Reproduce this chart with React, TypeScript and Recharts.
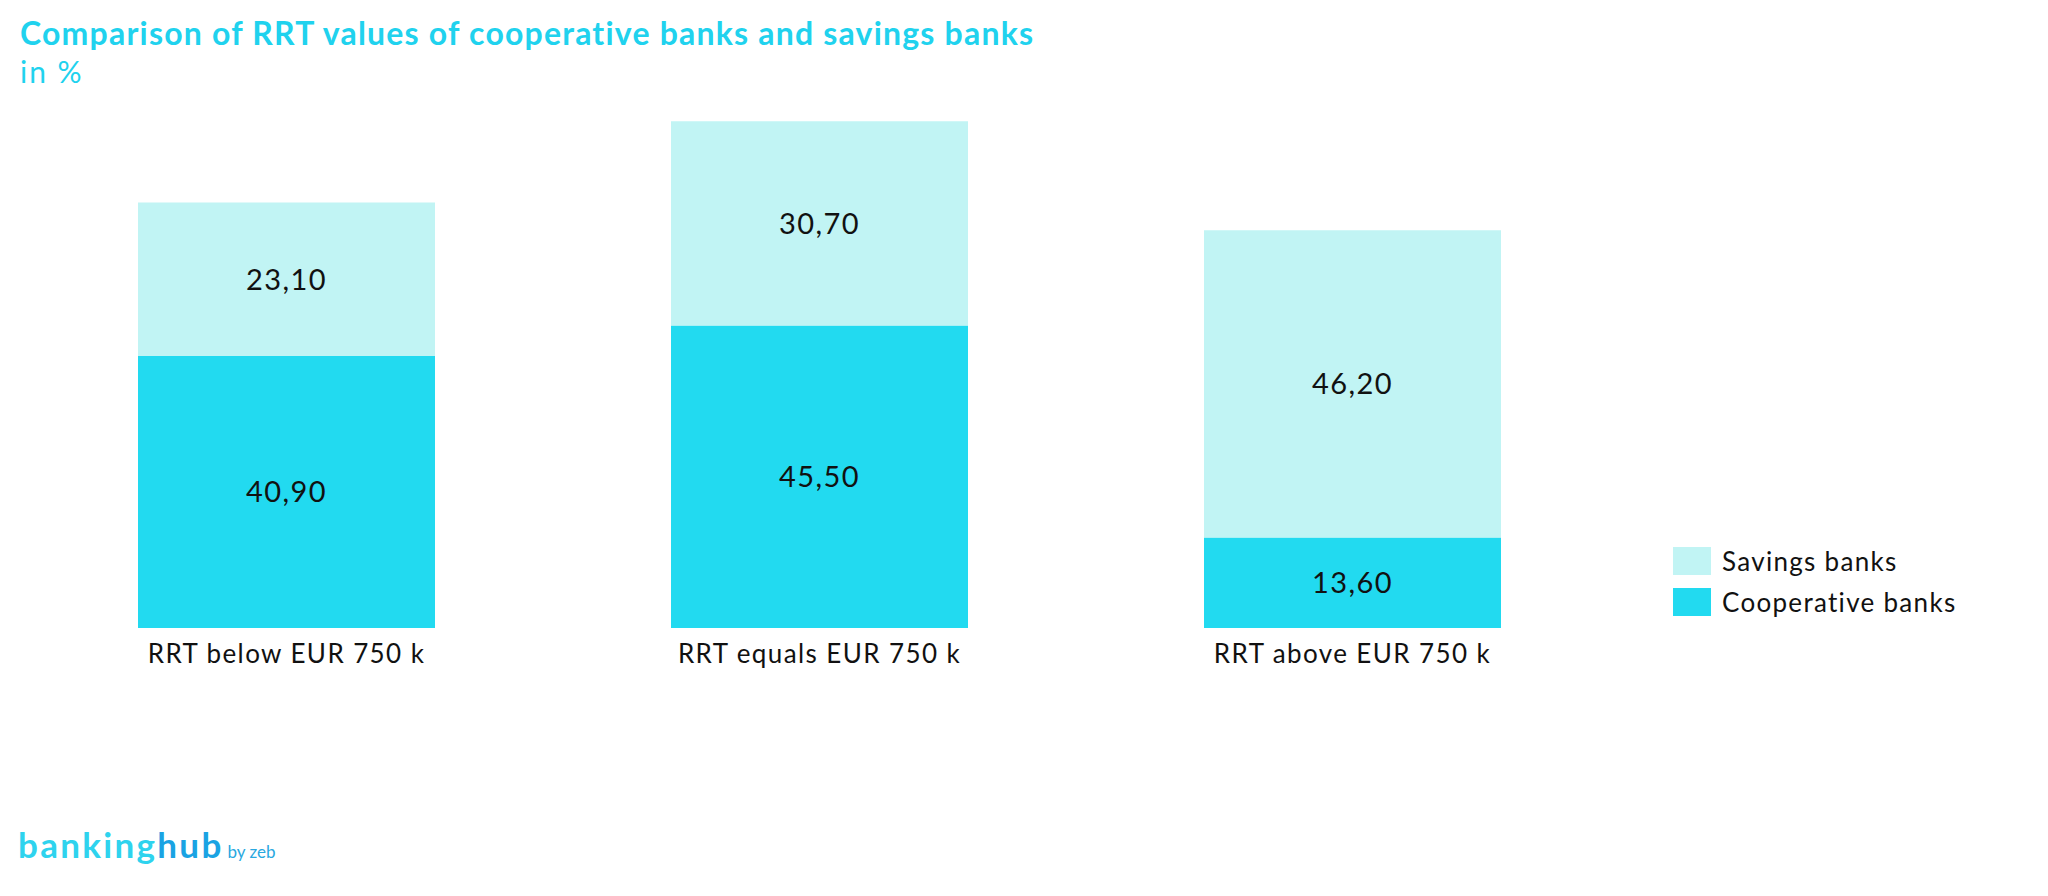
import React from "react";
import { Bar, BarChart, LabelList, Legend, XAxis, YAxis } from "recharts";

const COOP = "#22daf0";
const SAVINGS = "#c1f4f4";
const TITLE = "#20d2ee";
const FONT = "Lato, 'Noto Sans', sans-serif";

const categories = ["RRT below EUR 750 k", "RRT equals EUR 750 k", "RRT above EUR 750 k"];
const cooperativeBanks = [40.9, 45.5, 13.6];
const savingsBanks = [23.1, 30.7, 46.2];

const data = categories.map((name, i) => ({
  name,
  coop: cooperativeBanks[i],
  savings: savingsBanks[i],
}));

const fmt = (v: any) => Number(v).toFixed(2).replace(".", ",");

const labelStyle = { fontSize: 29, fill: "#111", fontFamily: FONT, letterSpacing: 1.4 };

function LegendBox(props: any) {
  const items = (props.payload || []).slice().reverse();
  return (
    <div style={{ fontFamily: FONT }}>
      {items.map((it: any) => (
        <div
          key={it.value}
          style={{ display: "flex", alignItems: "center", height: 41 }}
        >
          <div style={{ width: 38, height: 28, background: it.color, marginRight: 11 }} />
          <span style={{ fontSize: 26, color: "#111", letterSpacing: 1.3 }}>{it.value}</span>
        </div>
      ))}
    </div>
  );
}

export default function App() {
  return (
    <div style={{ position: "absolute", left: 0, top: 0, width: 2048, height: 896, background: "#fff" }}>
      <div
        style={{
          position: "absolute",
          left: 20,
          top: 14,
          fontFamily: FONT,
          color: TITLE,
          lineHeight: "38px",
          whiteSpace: "nowrap",
        }}
      >
        <div style={{ fontSize: 32, fontWeight: 700, letterSpacing: 1.2 }}>
          Comparison of RRT values of cooperative banks and savings banks
        </div>
        <div style={{ fontSize: 30, letterSpacing: 2 }}>in %</div>
      </div>

      <BarChart
        width={2048}
        height={896}
        data={data}
        margin={{ top: 96, right: 429, bottom: 208, left: 20 }}
        barSize={297}
      >
        <XAxis
          dataKey="name"
          axisLine={false}
          tickLine={false}
          tickSize={0}
          tickMargin={17}
          height={60}
          interval={0}
          tick={{ fontSize: 26, fill: "#111", fontFamily: FONT, letterSpacing: 1.4 }}
        />
        <YAxis hide domain={[0, 80]} />
        <Legend
          layout="vertical"
          align="center"
          verticalAlign="middle"
          wrapperStyle={{ left: 1673, top: 540, width: "auto" }}
          content={<LegendBox />}
        />
        <Bar dataKey="coop" name="Cooperative banks" stackId="a" fill={COOP} isAnimationActive={false}>
          <LabelList dataKey="coop" position="center" formatter={fmt} style={labelStyle} />
        </Bar>
        <Bar dataKey="savings" name="Savings banks" stackId="a" fill={SAVINGS} isAnimationActive={false}>
          <LabelList dataKey="savings" position="center" formatter={fmt} style={labelStyle} />
        </Bar>
      </BarChart>

      <div
        style={{
          position: "absolute",
          left: 18,
          top: 822,
          fontFamily: FONT,
          whiteSpace: "nowrap",
          lineHeight: "44px",
        }}
      >
        <span style={{ fontSize: 35, fontWeight: 700, color: "#2ed3ee", letterSpacing: 2.3 }}>banking</span>
        <span style={{ fontSize: 35, fontWeight: 700, color: "#1aa3e3", letterSpacing: 2.3 }}>hub</span>
        <span style={{ fontSize: 17, color: "#29a8e0", marginLeft: 4 }}>by zeb</span>
      </div>
    </div>
  );
}
